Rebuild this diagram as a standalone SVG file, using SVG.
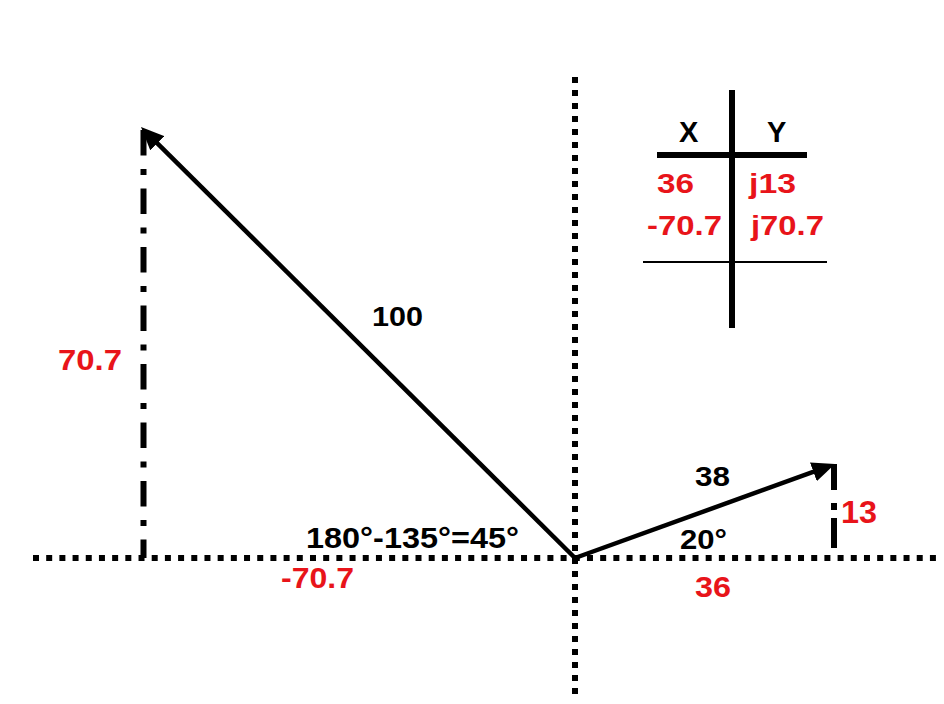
<svg xmlns="http://www.w3.org/2000/svg" width="944" height="704" viewBox="0 0 944 704">
  <defs>
    <style>
      .dots { stroke: #000; stroke-width: 6; fill: none; stroke-linecap: butt; }
      .dashdot { stroke: #000; stroke-width: 6; fill: none; stroke-dasharray: 25.5 13.5 6 13.5; }
      .dashdot2 { stroke: #000; stroke-width: 6; fill: none; stroke-dasharray: 26 13 7 8 40; }
      .vec { stroke: #000; stroke-width: 4.5; fill: none; marker-end: url(#arrow); }
      .tline { stroke: #000; fill: none; }
      text { font-family: "Liberation Sans", Arial, sans-serif; font-weight: bold; }
      .blk { fill: #000; }
      .red { fill: #e8141a; }
    </style>
    <marker id="arrow" viewBox="0 0 23 20" refX="13" refY="10" markerWidth="23" markerHeight="20" markerUnits="userSpaceOnUse" orient="auto">
      <path d="M0,0 L23,10 L0,20 Z" fill="#000"/>
    </marker>
  </defs>
  <rect width="944" height="704" fill="#fff"/>

  <g id="axes">
    <line class="dots" x1="33" y1="558" x2="936" y2="558" stroke-dasharray="6 7.19"/>
    <line class="dots" x1="575" y1="77" x2="575" y2="695" stroke-dasharray="6 7"/>
  </g>

  <g id="components">
    <line id="comp-y-left" class="dashdot" x1="143.5" y1="130" x2="143.5" y2="558"/>
    <line id="comp-y-right" class="dashdot2" x1="834" y1="464" x2="834" y2="548"/>
  </g>

  <g id="connectors">
    <line id="vec-100" class="vec" x1="575" y1="558" x2="148.1" y2="134.1"/>
    <line id="vec-38" class="vec" x1="575" y1="558" x2="825.6" y2="467.4"/>
  </g>

  <g id="labels">
    <text class="blk" x="372" y="326" font-size="27" textLength="51" lengthAdjust="spacingAndGlyphs">100</text>
    <text class="blk" x="306" y="548" font-size="29" textLength="213" lengthAdjust="spacingAndGlyphs">180°-135°=45°</text>
    <text class="blk" x="695" y="486" font-size="28" textLength="35" lengthAdjust="spacingAndGlyphs">38</text>
    <text class="blk" x="680" y="549" font-size="27" textLength="47" lengthAdjust="spacingAndGlyphs">20°</text>
    <text class="red" x="58" y="370" font-size="30" textLength="64" lengthAdjust="spacingAndGlyphs">70.7</text>
    <text class="red" x="281" y="588" font-size="30" textLength="73" lengthAdjust="spacingAndGlyphs">-70.7</text>
    <text class="red" x="695" y="597" font-size="29" textLength="36" lengthAdjust="spacingAndGlyphs">36</text>
    <text class="red" x="841" y="523" font-size="31" textLength="36" lengthAdjust="spacingAndGlyphs">13</text>
  </g>

  <g id="table">
    <line class="tline" x1="732" y1="90" x2="732" y2="328" stroke-width="6"/>
    <line class="tline" x1="657" y1="155" x2="807" y2="155" stroke-width="6"/>
    <line class="tline" x1="643" y1="262" x2="827" y2="262" stroke-width="2"/>
    <text class="blk" x="679" y="142" font-size="29">X</text>
    <text class="blk" x="767" y="142" font-size="29">Y</text>
    <text class="red" x="657" y="193" font-size="28" textLength="37" lengthAdjust="spacingAndGlyphs">36</text>
    <text class="red" x="749" y="193" font-size="28" textLength="47" lengthAdjust="spacingAndGlyphs">j13</text>
    <text class="red" x="647" y="235" font-size="28" textLength="75" lengthAdjust="spacingAndGlyphs">-70.7</text>
    <text class="red" x="751" y="235" font-size="28" textLength="73" lengthAdjust="spacingAndGlyphs">j70.7</text>
  </g>
</svg>
